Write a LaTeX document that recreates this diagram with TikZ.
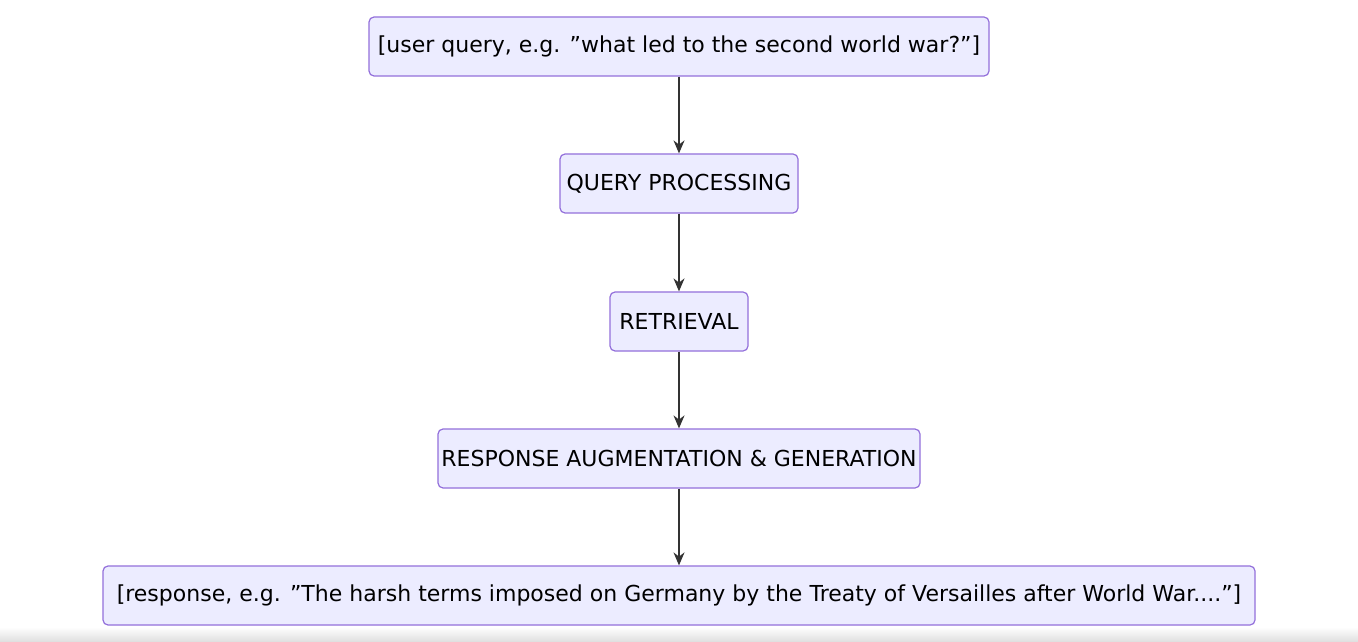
\documentclass[tikz,border=0pt]{standalone}
\usepackage{fontspec}
\setmainfont{DejaVu Sans}
\usetikzlibrary{arrows.meta}
\definecolor{nfill}{HTML}{ECECFF}
\definecolor{nborder}{HTML}{9370DB}
\definecolor{edge}{HTML}{333333}
\newcommand{\dq}{\symbol{34}}
\begin{document}
\begin{tikzpicture}[x=1pt,y=1pt,
  box/.style={draw=nborder,fill=nfill,line width=1.2pt,rounded corners=5pt,minimum height=59pt,inner sep=0pt,font=\fontsize{22}{26}\selectfont,text=black},
  arr/.style={draw=edge,line width=1.6pt,-{Stealth[length=13pt,width=11pt]}}]
\useasboundingbox (0,0) rectangle (1358,641);
\fill[white] (0,0) rectangle (1358,641);
\shade[top color=white,bottom color=black!12] (0,0) rectangle (1358,14);
\node[box,minimum width=620pt] (a) at (679,594.5) {[user query, e.g. \dq what led to the second world war?\dq]};
\node[box,minimum width=238pt] (b) at (679,457.5) {QUERY PROCESSING};
\node[box,minimum width=138pt] (c) at (679,319.5) {RETRIEVAL};
\node[box,minimum width=482pt] (d) at (679,182.5) {RESPONSE AUGMENTATION \& GENERATION};
\node[box,minimum width=1152pt] (e) at (679,45.5) {[response, e.g. \dq The harsh terms imposed on Germany by the Treaty of Versailles after World War....\dq]};
\draw[arr] (a) -- (b);
\draw[arr] (b) -- (c);
\draw[arr] (c) -- (d);
\draw[arr] (d) -- (e);
\end{tikzpicture}
\end{document}
